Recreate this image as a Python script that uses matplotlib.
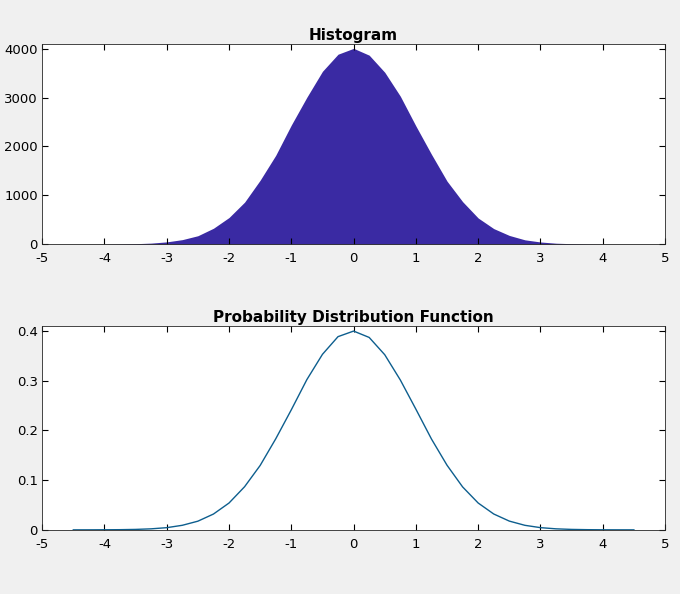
import numpy as np
import matplotlib
matplotlib.use('Agg')
import matplotlib.pyplot as plt

plt.rcParams['axes.unicode_minus'] = False

# values at 0.25 steps
x_pts = np.arange(-5, 5.001, 0.25)
hist_counts = [0, 0, 0, 0, 1, 4, 9, 21, 46, 92, 172, 325, 545, 860, 1310, 1820,
               2440, 3010, 3540, 3890, 4010, 3870, 3520, 3030, 2420, 1840,
               1290, 870, 535, 318, 178, 88, 44, 19, 9, 3, 1, 0, 0, 0, 0]

pdf_x = np.arange(-4.5, 4.501, 0.25)
pdf_vals = [0.0, 0.0001, 0.0004, 0.0009, 0.0022, 0.0051, 0.0110, 0.0229, 0.0436, 0.0795,
            0.1350, 0.2170, 0.3240, 0.4580, 0.6040, 0.7560, 0.8830, 0.9720, 1.0,
            0.9680, 0.8810, 0.7540, 0.6070, 0.4570, 0.3250, 0.2160, 0.1350,
            0.0797, 0.0440, 0.0228, 0.0111, 0.0051, 0.0022, 0.0009, 0.0003, 0.0001,
            0.0]
pdf_vals = [v * 0.4 for v in pdf_vals]

bg = '#f0f0f0'
fig = plt.figure(figsize=(6.8, 5.94), dpi=100, facecolor=bg)
ax1 = fig.add_axes([0.062, 0.589, 0.916, 0.337])
ax2 = fig.add_axes([0.062, 0.108, 0.916, 0.343])

ax1.fill_between(x_pts, hist_counts, color='#3a2aa3', lw=0)
ax1.set_xlim(-5, 5)
ax1.set_ylim(0, 4100)
ax1.set_yticks([0, 1000, 2000, 3000, 4000])
ax1.set_title('Histogram', fontweight='bold', fontsize=11, pad=3)

ax2.plot(pdf_x, pdf_vals, color='#0d5e8e', lw=1)
ax2.set_xlim(-5, 5)
ax2.set_ylim(0, 0.41)
ax2.set_yticks([0, 0.1, 0.2, 0.3, 0.4])
ax2.set_yticklabels(['0', '0.1', '0.2', '0.3', '0.4'])
ax2.set_title('Probability Distribution Function', fontweight='bold', fontsize=11, pad=3)

for ax in (ax1, ax2):
    ax.set_xticks(range(-5, 6))
    ax.tick_params(direction='in', top=True, right=True, labelsize=9.5, length=4, pad=3)
    ax.tick_params(axis='x', pad=6)
    for s in ax.spines.values():
        s.set_color('#262626')
        s.set_linewidth(0.6)

fig.savefig('out.png', facecolor=bg)
